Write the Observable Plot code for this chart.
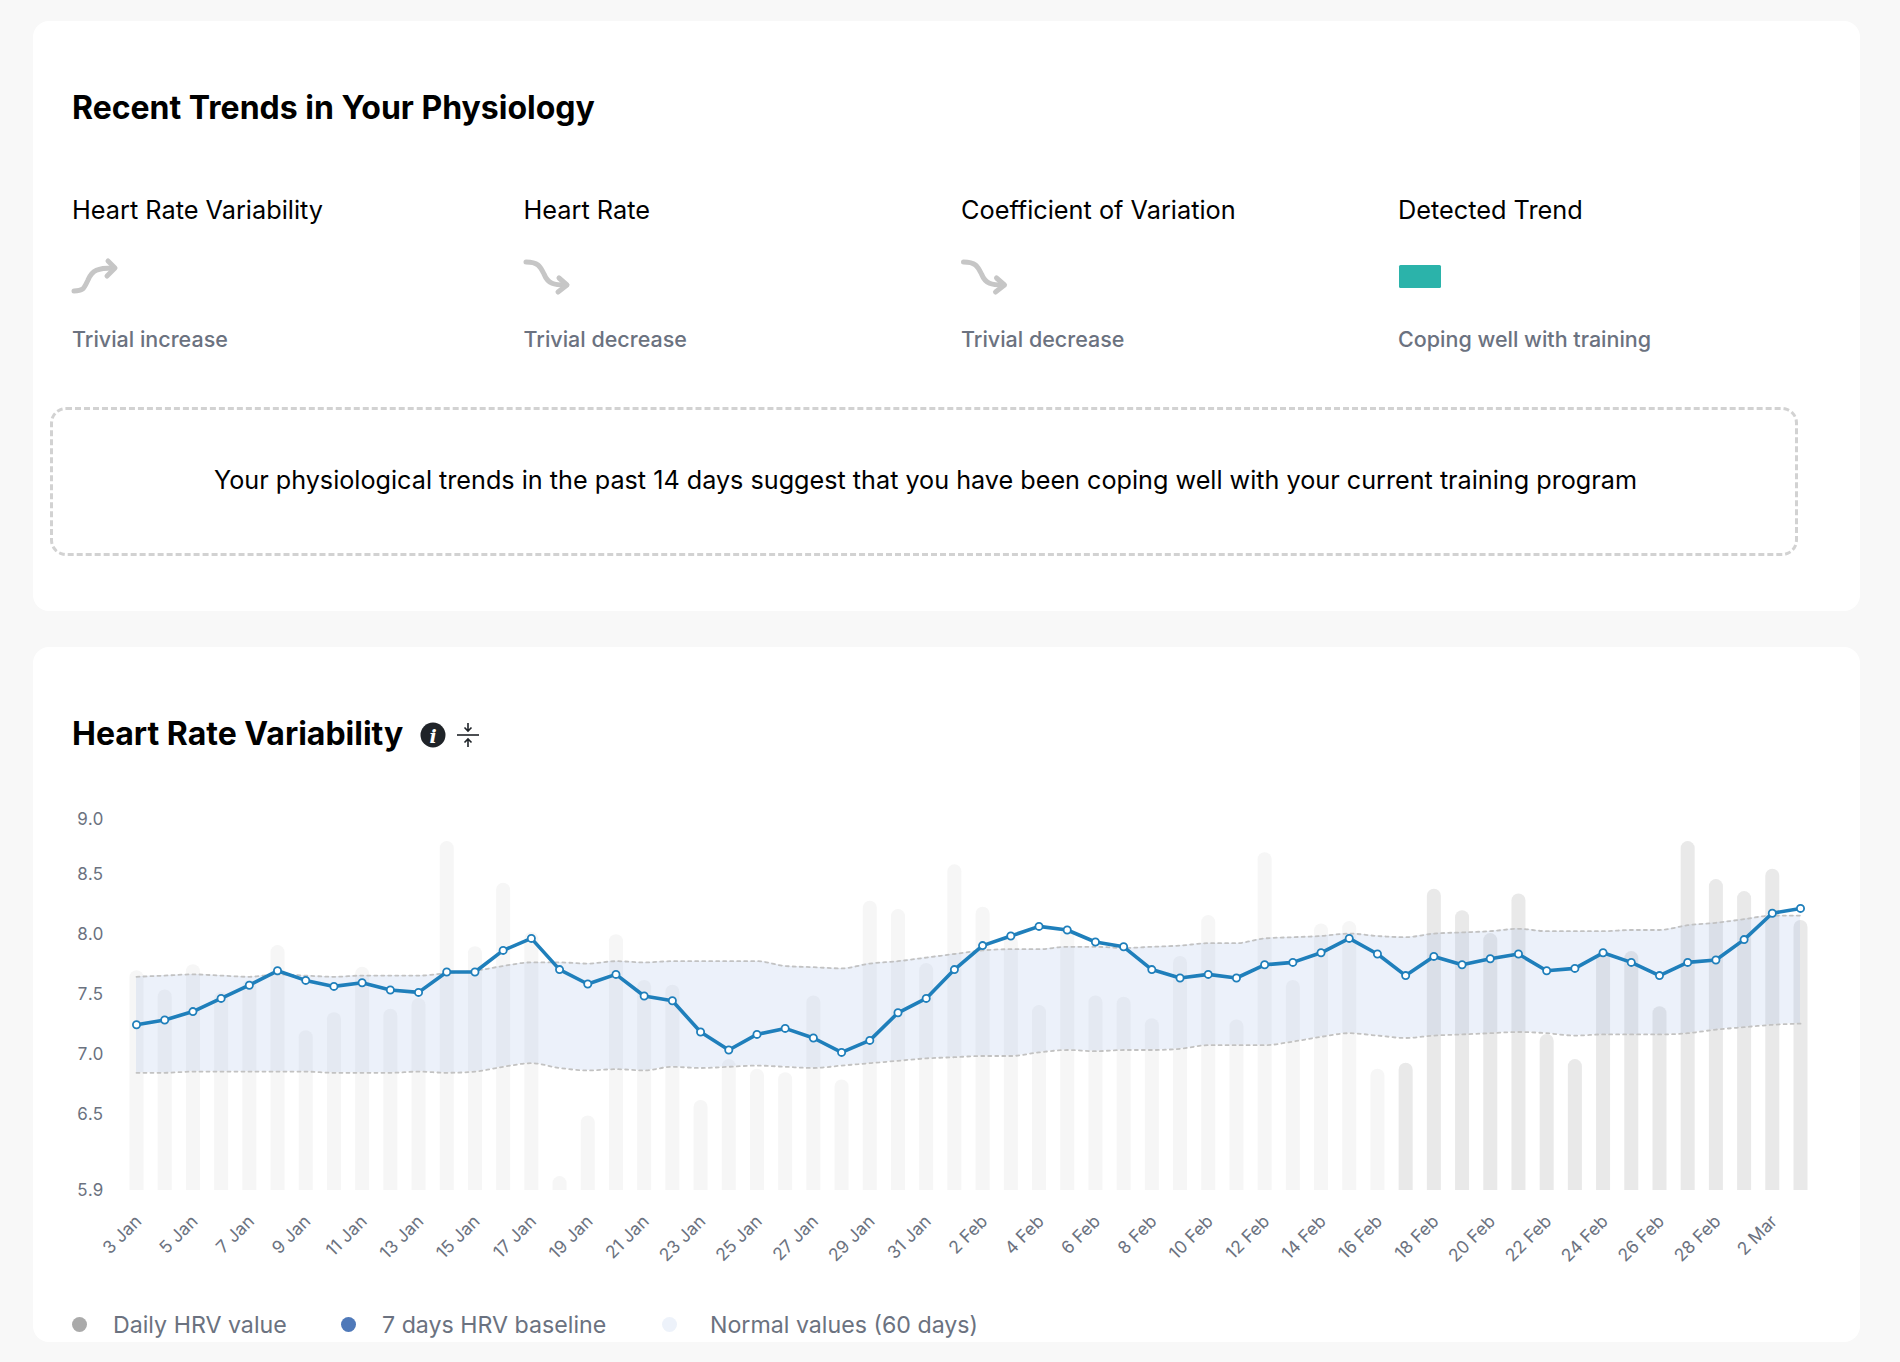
<!DOCTYPE html>
<html>
<head>
<meta charset="utf-8">
<script src="https://cdn.jsdelivr.net/npm/d3@7"></script>
<script src="https://cdn.jsdelivr.net/npm/@observablehq/plot@0.6"></script>
<style>
html,body{margin:0;padding:0;background:#f8f8f8;}
body{width:1900px;height:1362px;position:relative;overflow:hidden;font-family:Inter,sans-serif;color:#000;}
.card{position:absolute;left:33px;width:1827px;background:#fff;border-radius:16px;}
.t{position:absolute;white-space:nowrap;line-height:1;}
.title{font-size:32px;font-weight:700;letter-spacing:0;}
.head{font-size:25.3px;font-weight:400;}
.sub{font-size:21.5px;font-weight:500;color:#6b7280;}
.leg{font-size:23.2px;color:#6b7280;}
.dot{position:absolute;width:15px;height:15px;border-radius:50%;}
#chart{position:absolute;left:0;top:780px;}
#deco{position:absolute;left:0;top:0;pointer-events:none;}
</style>
</head>
<body>
<div class="card" style="top:21px;height:590px"></div>
<div class="card" style="top:647px;height:695px"></div>
<div class="t title" style="left:72px;top:92px" id="title1"></div>
<div id="cols"></div>
<div style="position:absolute;left:50px;top:407px;width:1742px;height:143px;border:3px dashed #d2d2d2;border-radius:16px;"></div>
<div class="t" style="left:51px;width:1749px;top:467.5px;text-align:center;font-size:25.2px" id="msg"></div>
<div class="t title" style="left:72px;top:718px" id="title2"></div>
<svg id="deco" width="1900" height="1362">
  <g fill="none" stroke="#c6c6c6" stroke-width="5" stroke-linecap="round" stroke-linejoin="round">
    <g><path d="M74 291C84 291 84 288 88 280C92 270 98 268 113 268"/><path d="M108 261L115 268L107 276"/></g>
    <g><path d="M526 262C538 262 540 266 544 274C548 284 554 285 566 285"/><path d="M559 278L567 285L558 292"/></g>
    <g transform="translate(437.5,0)"><path d="M526 262C538 262 540 266 544 274C548 284 554 285 566 285"/><path d="M559 278L567 285L558 292"/></g>
  </g>
  <rect x="1399" y="265" width="42" height="23" rx="1.5" fill="#2bb3aa"/>
  <circle cx="433" cy="735" r="12.5" fill="#1f2328"/>
  <text x="433" y="743" text-anchor="middle" font-family="'DejaVu Serif',serif" font-style="italic" font-weight="700" font-size="19" fill="#fff">i</text>
  <g stroke="#1f2328" stroke-width="1.6" fill="none">
    <path d="M457 735H479"/>
    <path d="M468 723V731M464.5 727.5L468 731L471.5 727.5"/>
    <path d="M468 747V739M464.5 742.5L468 739L471.5 742.5"/>
  </g>
</svg>
<div id="chart"></div>
<div id="legend"></div>
<script>
const days = ["3 Jan","4 Jan","5 Jan","6 Jan","7 Jan","8 Jan","9 Jan","10 Jan","11 Jan","12 Jan","13 Jan","14 Jan","15 Jan","16 Jan","17 Jan","18 Jan","19 Jan","20 Jan","21 Jan","22 Jan","23 Jan","24 Jan","25 Jan","26 Jan","27 Jan","28 Jan","29 Jan","30 Jan","31 Jan","1 Feb","2 Feb","3 Feb","4 Feb","5 Feb","6 Feb","7 Feb","8 Feb","9 Feb","10 Feb","11 Feb","12 Feb","13 Feb","14 Feb","15 Feb","16 Feb","17 Feb","18 Feb","19 Feb","20 Feb","21 Feb","22 Feb","23 Feb","24 Feb","25 Feb","26 Feb","27 Feb","28 Feb","1 Mar","2 Mar","3 Mar"];
const tickDays = ["3 Jan","5 Jan","7 Jan","9 Jan","11 Jan","13 Jan","15 Jan","17 Jan","19 Jan","21 Jan","23 Jan","25 Jan","27 Jan","29 Jan","31 Jan","2 Feb","4 Feb","6 Feb","8 Feb","10 Feb","12 Feb","14 Feb","16 Feb","18 Feb","20 Feb","22 Feb","24 Feb","26 Feb","28 Feb","2 Mar"];
const yTicks = [5.9,6.5,7.0,7.5,8.0,8.5,9.0];
const daily = [7.70,7.54,7.75,7.52,7.62,7.91,7.20,7.35,7.73,7.38,7.47,8.80,7.90,8.43,8.02,6.01,6.49,8.00,7.62,7.58,6.62,6.96,6.88,6.85,7.49,6.79,8.28,8.21,7.76,8.59,8.23,7.99,7.41,8.05,7.49,7.48,7.30,7.82,8.16,7.29,8.70,7.62,8.09,8.11,6.88,6.93,8.38,8.20,8.01,8.34,7.17,6.96,7.86,7.86,7.40,8.80,8.46,8.36,8.55,8.12];
const baseline = [7.25,7.29,7.36,7.47,7.58,7.70,7.62,7.57,7.60,7.54,7.52,7.69,7.69,7.87,7.97,7.71,7.59,7.67,7.49,7.45,7.19,7.04,7.17,7.22,7.14,7.02,7.12,7.35,7.47,7.71,7.91,7.99,8.07,8.04,7.94,7.90,7.71,7.64,7.67,7.64,7.75,7.77,7.85,7.97,7.84,7.66,7.82,7.75,7.80,7.84,7.70,7.72,7.85,7.77,7.66,7.77,7.79,7.96,8.18,8.22];
const normalHigh = [7.65,7.66,7.67,7.66,7.65,7.67,7.66,7.65,7.66,7.66,7.66,7.68,7.70,7.74,7.77,7.77,7.76,7.78,7.77,7.78,7.78,7.78,7.78,7.74,7.73,7.72,7.76,7.78,7.81,7.84,7.87,7.88,7.88,7.90,7.90,7.89,7.90,7.91,7.93,7.93,7.97,7.98,7.99,8.01,7.99,7.98,8.01,8.02,8.03,8.05,8.03,8.03,8.03,8.04,8.04,8.08,8.10,8.13,8.16,8.16];
const normalLow = [6.85,6.85,6.86,6.86,6.86,6.86,6.86,6.85,6.85,6.85,6.86,6.85,6.86,6.90,6.93,6.89,6.87,6.88,6.87,6.90,6.89,6.90,6.91,6.90,6.89,6.91,6.93,6.95,6.97,6.98,6.99,6.99,7.02,7.04,7.03,7.04,7.04,7.05,7.08,7.08,7.08,7.11,7.15,7.18,7.16,7.14,7.16,7.17,7.18,7.19,7.18,7.16,7.17,7.17,7.17,7.18,7.21,7.23,7.25,7.26];
const recentFrom = 45;
const columns = [["Heart Rate Variability","Trivial increase",72],["Heart Rate","Trivial decrease",523.5],["Coefficient of Variation","Trivial decrease",961],["Detected Trend","Coping well with training",1398]];
const legendItems = [["Daily HRV value","#aaaaaa",79,113],["7 days HRV baseline","#4f79b9",348,382],["Normal values (60 days)","#edf2fa",669,710]];

document.getElementById("title1").textContent = "Recent Trends in Your Physiology";
document.getElementById("title2").textContent = "Heart Rate Variability";
document.getElementById("msg").textContent = "Your physiological trends in the past 14 days suggest that you have been coping well with your current training program";
const cols = document.getElementById("cols");
for (const [h,s,x] of columns) {
  cols.insertAdjacentHTML("beforeend",`<div class="t head" style="left:${x}px;top:197px">${h}</div><div class="t sub" style="left:${x}px;top:329px">${s}</div>`);
}
const leg = document.getElementById("legend");
for (const [label,color,cx,tx] of legendItems) {
  leg.insertAdjacentHTML("beforeend",`<div class="dot" style="left:${cx-7.5}px;top:1317px;background:${color}"></div><div class="t leg" style="left:${tx}px;top:1313.5px">${label}</div>`);
}

const rows = days.map((day,i)=>({day,daily:daily[i],baseline:baseline[i],high:normalHigh[i],low:normalLow[i],recent:i>=recentFrom}));

const plot = Plot.plot({
  width:1900, height:510, marginLeft:110, marginRight:60, marginTop:20, marginBottom:100,
  style:{fontFamily:"Inter, sans-serif",background:"transparent",overflow:"visible"},
  x:{type:"point",domain:days,range:[136,1800],padding:0,round:false,axis:null},
  y:{type:"linear",domain:[5.9,6.5,8.5,9],range:[410,334.3,94.3,39],axis:null},
  marks:[
    Plot.ruleX(rows,{x:"day",y1:5.4,y2:"daily",stroke:d=>d.recent?"#e9e9e9":"#f6f6f6",strokeWidth:14,strokeLinecap:"round",dy:7,clip:true}),
    Plot.areaY(rows,{x:"day",y1:"low",y2:"high",fill:"#a0b9e6",fillOpacity:0.2,curve:"monotone-x"}),
    Plot.line(rows,{x:"day",y:"high",stroke:"#c2c2c2",strokeWidth:1.8,strokeDasharray:"3,4",curve:"monotone-x"}),
    Plot.line(rows,{x:"day",y:"low",stroke:"#c2c2c2",strokeWidth:1.8,strokeDasharray:"3,4",curve:"monotone-x"}),
    Plot.line(rows,{x:"day",y:"baseline",stroke:"#1f7fbb",strokeWidth:3.6,curve:"linear"}),
    Plot.dot(rows,{x:"day",y:"baseline",r:3.6,fill:"#fff",stroke:"#1f7fbb",strokeWidth:1.8}),
    Plot.axisY({ticks:yTicks,tickSize:0,tickPadding:7,tickFormat:d=>d.toFixed(1),fontSize:17,fill:"#6b7280",label:null}),
    Plot.axisX({ticks:tickDays,tickSize:0,tickPadding:28,dx:2,tickRotate:-45,fontSize:17.5,fill:"#6b7280",label:null,anchor:"bottom"})
  ]
});
document.getElementById("chart").appendChild(plot);
</script>
</body>
</html>
